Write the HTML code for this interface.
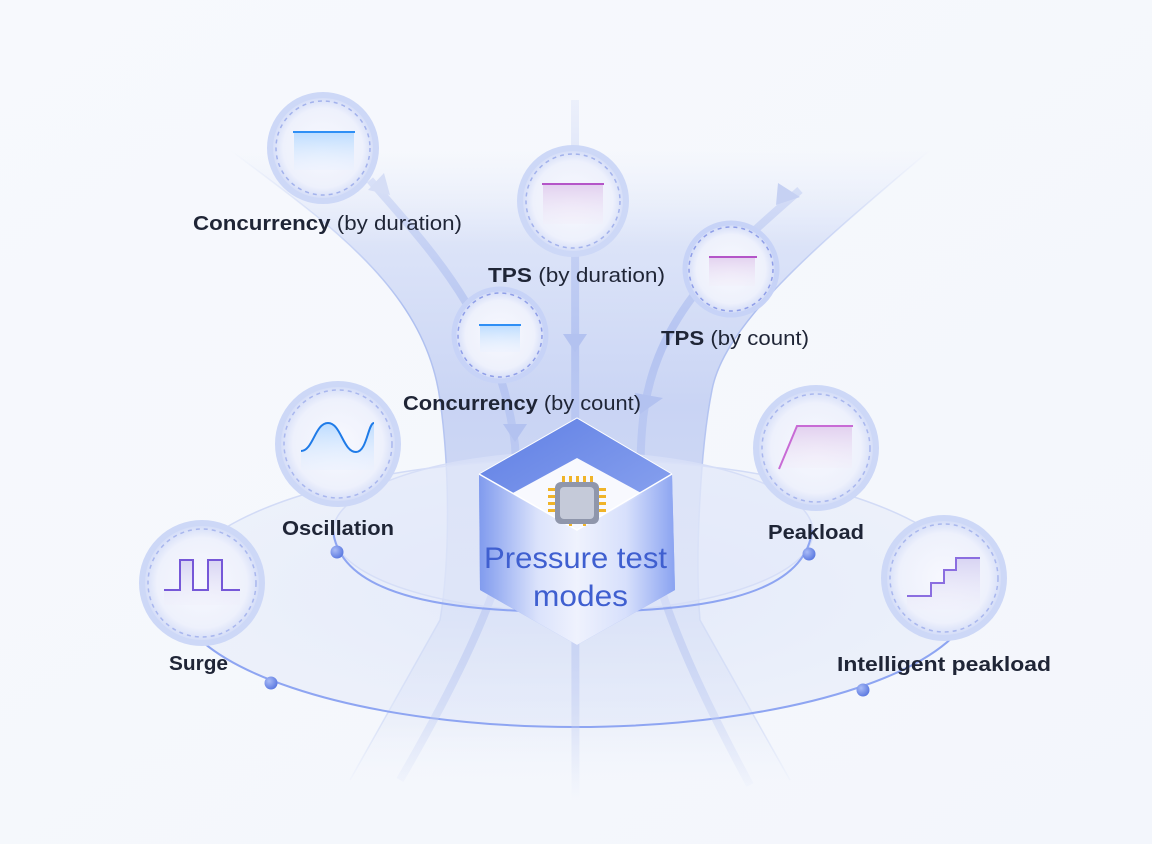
<!DOCTYPE html>
<html><head><meta charset="utf-8"><style>
html,body{margin:0;padding:0;width:1152px;height:844px;overflow:hidden;background:#f6f8fd}
svg{display:block}
text{font-family:"Liberation Sans","DejaVu Sans",sans-serif}
</style></head><body>
<svg width="1152" height="844" viewBox="0 0 1152 844" xmlns="http://www.w3.org/2000/svg">
<defs>
<linearGradient id="bg" x1="0" y1="0" x2="1" y2="1"><stop offset="0" stop-color="#f7f9fd"/><stop offset="1" stop-color="#f3f6fc"/></linearGradient>
<linearGradient id="fun" gradientUnits="userSpaceOnUse" x1="0" y1="150" x2="0" y2="790">
<stop offset="0" stop-color="#e3e9f9" stop-opacity="0"/>
<stop offset="0.15" stop-color="#d5def7" stop-opacity="0.8"/>
<stop offset="0.4" stop-color="#c9d4f4"/>
<stop offset="0.7" stop-color="#d3dcf6"/>
<stop offset="0.88" stop-color="#e2e8f8" stop-opacity="0.6"/>
<stop offset="1" stop-color="#f3f6fc" stop-opacity="0"/></linearGradient>
<linearGradient id="edge" gradientUnits="userSpaceOnUse" x1="0" y1="150" x2="0" y2="790">
<stop offset="0" stop-color="#b6c5f1" stop-opacity="0"/>
<stop offset="0.25" stop-color="#aebff0"/>
<stop offset="0.8" stop-color="#b6c5f1" stop-opacity="0.7"/>
<stop offset="1" stop-color="#b6c5f1" stop-opacity="0"/></linearGradient>
<linearGradient id="str" gradientUnits="userSpaceOnUse" x1="0" y1="100" x2="0" y2="800">
<stop offset="0" stop-color="#c2cef3" stop-opacity="0.2"/>
<stop offset="0.35" stop-color="#b5c4f1"/>
<stop offset="0.8" stop-color="#c2cef3" stop-opacity="0.7"/>
<stop offset="1" stop-color="#c2cef3" stop-opacity="0"/></linearGradient>
<radialGradient id="circ" cx="0.5" cy="0.5" r="0.5">
<stop offset="0" stop-color="#f7f8fe"/><stop offset="0.75" stop-color="#eef1fc"/><stop offset="1" stop-color="#cfd9f7"/></radialGradient>
<linearGradient id="blueF" x1="0" y1="0" x2="0" y2="1"><stop offset="0" stop-color="#bcdcff"/><stop offset="1" stop-color="#e8f1ff" stop-opacity="0.3"/></linearGradient>
<linearGradient id="pinkF" x1="0" y1="0" x2="0" y2="1"><stop offset="0" stop-color="#e2d0ef"/><stop offset="1" stop-color="#f2ecf8" stop-opacity="0.3"/></linearGradient>
<linearGradient id="purF" x1="0" y1="0" x2="0" y2="1"><stop offset="0" stop-color="#d8d4f3"/><stop offset="1" stop-color="#efeefa" stop-opacity="0.3"/></linearGradient>
<linearGradient id="cubeL" x1="0" y1="0" x2="1" y2="0"><stop offset="0" stop-color="#7f9aee"/><stop offset="0.6" stop-color="#dfe6fc"/><stop offset="1" stop-color="#f4f6fe"/></linearGradient>
<linearGradient id="cubeR" x1="0" y1="0" x2="1" y2="0"><stop offset="0" stop-color="#f4f6fe"/><stop offset="0.5" stop-color="#dbe3fc"/><stop offset="1" stop-color="#8aa3f1"/></linearGradient>
<linearGradient id="cubeT" x1="0" y1="0" x2="1" y2="1"><stop offset="0" stop-color="#5f7fe4"/><stop offset="1" stop-color="#8ea6f0"/></linearGradient>
<radialGradient id="dot" cx="0.35" cy="0.35" r="0.7"><stop offset="0" stop-color="#a9bbf6"/><stop offset="1" stop-color="#5a78e0"/></radialGradient>
<radialGradient id="ell" cx="0.5" cy="0.5" r="0.5"><stop offset="0" stop-color="#dce4f8" stop-opacity="0.7"/><stop offset="1" stop-color="#e4eaf9" stop-opacity="0.5"/></radialGradient>
</defs>
<rect width="1152" height="844" fill="url(#bg)"/>
<!-- funnel -->
<path d="M230,150 C330,225 425,290 440,400 C450,470 450,560 440,620 L350,780 L790,780 L700,620 C695,560 700,450 712,390 C725,320 830,235 930,150 Z" fill="url(#fun)"/>
<path d="M230,150 C330,225 425,290 440,400 C450,470 450,560 440,620 L350,780" fill="none" stroke="url(#edge)" stroke-width="1.5"/>
<path d="M930,150 C830,235 725,320 712,390 C700,450 695,560 700,620 L790,780" fill="none" stroke="url(#edge)" stroke-width="1.5"/>
<!-- outer ellipse -->
<ellipse cx="575" cy="593" rx="400" ry="134" fill="url(#ell)"/>
<path d="M175,593 A400,134 0 0 0 975,593" fill="none" stroke="#8ea5f2" stroke-width="2"/>
<path d="M175,593 A400,134 0 0 1 975,593" fill="none" stroke="#d2dbf6" stroke-width="1.5"/>
<!-- streams -->
<path d="M575,100 L575.5,840" stroke="url(#str)" stroke-width="8" fill="none"/>
<path d="M370,180 C430,250 500,320 515,445 C520,520 510,590 400,780" stroke="url(#str)" stroke-width="8" fill="none"/>
<path d="M800,190 C720,260 650,320 642,430 C635,520 650,600 750,785" stroke="url(#str)" stroke-width="8" fill="none"/>
<path d="M778,183 L800,197 L776,205 Z" fill="#c6d1f3"/>
<path d="M384,173 L368,190 L390,195 Z" fill="#d6def6"/>
<path d="M563,334 L587,334 L575,352 Z" fill="#b3c2f0"/>
<path d="M503,424 L527,424 L515,442 Z" fill="#b3c2f0"/>
<path d="M635,393 L663,398 L640,414 Z" fill="#b3c2f0"/>
<!-- inner ellipse -->
<ellipse cx="573" cy="532" rx="240" ry="80" fill="#e2e8f9" fill-opacity="0.5" stroke="#d6def7" stroke-width="1.5"/>
<path d="M333,530 C340,600 460,612 573,612 C690,612 805,600 812,530" fill="none" stroke="#8ea5f2" stroke-width="2"/>
<!-- cube -->
<polygon points="577,418 672,474 675,590 577,645 480,590 479,474" fill="#8ea5f0"/>
<polygon points="577,418 672,474 577,530 479,474" fill="url(#cubeT)"/>
<polygon points="577,458 643,494 577,530 511,494" fill="#f8f9fe"/>
<polygon points="479,474 577,530 577,645 480,590" fill="url(#cubeL)" opacity="0.95"/>
<polygon points="672,474 577,530 577,645 675,590" fill="url(#cubeR)" opacity="0.95"/>
<polyline points="479,474 577,530 672,474" fill="none" stroke="#fff" stroke-width="1.5"/>
<polyline points="479,474 577,418 672,474" fill="none" stroke="#fff" stroke-width="1"/>
<!-- chip -->
<g fill="#f0b429">
<rect x="562" y="476" width="3" height="7"/><rect x="569" y="476" width="3" height="7"/><rect x="576" y="476" width="3" height="7"/><rect x="583" y="476" width="3" height="7"/><rect x="590" y="476" width="3" height="7"/>
<rect x="548" y="488" width="7" height="3"/><rect x="548" y="495" width="7" height="3"/><rect x="548" y="502" width="7" height="3"/><rect x="548" y="509" width="7" height="3"/>
<rect x="599" y="488" width="7" height="3"/><rect x="599" y="495" width="7" height="3"/><rect x="599" y="502" width="7" height="3"/><rect x="599" y="509" width="7" height="3"/>
<rect x="569" y="520" width="3" height="6"/><rect x="583" y="520" width="3" height="6"/></g>
<rect x="555" y="482" width="44" height="42" rx="6" fill="#8f96ab"/>
<rect x="560" y="487" width="34" height="32" rx="4" fill="#c5cad9"/>
<text x="484" y="568" font-size="30" fill="#3f5fd0" textLength="183" lengthAdjust="spacingAndGlyphs">Pressure test</text>
<text x="533" y="606" font-size="30" fill="#3f5fd0" textLength="95" lengthAdjust="spacingAndGlyphs">modes</text>
<!-- circles -->
<g stroke-width="1.5">
<circle cx="323" cy="148" r="53" fill="url(#circ)" stroke="#cdd8f7" stroke-width="6"/>
<circle cx="323" cy="148" r="47" fill="none" stroke="#a3b2ec" stroke-dasharray="4 4"/>
<circle cx="573" cy="201" r="53" fill="url(#circ)" stroke="#cdd8f7" stroke-width="6"/>
<circle cx="573" cy="201" r="47" fill="none" stroke="#a3b2ec" stroke-dasharray="4 4"/>
<circle cx="731" cy="269" r="46" fill="url(#circ)" stroke="#c7d3f7" stroke-width="5"/>
<circle cx="731" cy="269" r="42" fill="none" stroke="#8f9ee8" stroke-dasharray="4 4"/>
<circle cx="500" cy="335" r="46" fill="url(#circ)" stroke="#c7d3f7" stroke-width="5"/>
<circle cx="500" cy="335" r="42" fill="none" stroke="#8f9ee8" stroke-dasharray="4 4"/>
<circle cx="338" cy="444" r="60" fill="url(#circ)" stroke="#cdd8f7" stroke-width="6"/>
<circle cx="338" cy="444" r="54" fill="none" stroke="#a9b7ee" stroke-dasharray="4 4"/>
<circle cx="816" cy="448" r="60" fill="url(#circ)" stroke="#cdd8f7" stroke-width="6"/>
<circle cx="816" cy="448" r="54" fill="none" stroke="#a9b7ee" stroke-dasharray="4 4"/>
<circle cx="202" cy="583" r="60" fill="url(#circ)" stroke="#cdd8f7" stroke-width="6"/>
<circle cx="202" cy="583" r="54" fill="none" stroke="#a9b7ee" stroke-dasharray="4 4"/>
<circle cx="944" cy="578" r="60" fill="url(#circ)" stroke="#cdd8f7" stroke-width="6"/>
<circle cx="944" cy="578" r="54" fill="none" stroke="#a9b7ee" stroke-dasharray="4 4"/>
</g>
<!-- icons -->
<rect x="294" y="132" width="60" height="38" fill="url(#blueF)"/><line x1="293" y1="132" x2="355" y2="132" stroke="#2f8ff5" stroke-width="2"/>
<rect x="543" y="184" width="60" height="40" fill="url(#pinkF)"/><line x1="542" y1="184" x2="604" y2="184" stroke="#b455c8" stroke-width="2"/>
<rect x="709" y="256" width="46" height="30" fill="url(#pinkF)"/><line x1="709" y1="257" x2="757" y2="257" stroke="#b455c8" stroke-width="2"/>
<rect x="480" y="325" width="40" height="27" fill="url(#blueF)"/><line x1="479" y1="325" x2="521" y2="325" stroke="#2f8ff5" stroke-width="2"/>
<path d="M301,451 C313,451 315,423 328,423 C341,423 343,452 356,452 C367,452 368,423 374,423 L374,470 L301,470 Z" fill="url(#blueF)"/>
<path d="M301,451 C313,451 315,423 328,423 C341,423 343,452 356,452 C367,452 368,423 374,423" fill="none" stroke="#1f7be8" stroke-width="2"/>
<path d="M780,468 L797,426 L852,426 L852,468 Z" fill="url(#pinkF)"/>
<path d="M779,469 L797,426 L853,426" fill="none" stroke="#c86bd5" stroke-width="2"/>
<path d="M164,590 L180,590 L180,560 L193,560 L193,590 L208,590 L208,560 L222,560 L222,590 L240,590 L240,605 L164,605 Z" fill="url(#purF)"/>
<path d="M164,590 L180,590 L180,560 L193,560 L193,590 L208,590 L208,560 L222,560 L222,590 L240,590" fill="none" stroke="#7658d8" stroke-width="2"/>
<path d="M907,596 L931,596 L931,583 L944,583 L944,570 L956,570 L956,558 L980,558 L980,610 L907,610 Z" fill="url(#purF)"/>
<path d="M907,596 L931,596 L931,583 L944,583 L944,570 L956,570 L956,558 L980,558" fill="none" stroke="#8b6ee0" stroke-width="2"/>
<!-- dots -->
<circle cx="337" cy="552" r="6.5" fill="url(#dot)"/>
<circle cx="809" cy="554" r="6.5" fill="url(#dot)"/>
<circle cx="271" cy="683" r="6.5" fill="url(#dot)"/>
<circle cx="863" cy="690" r="6.5" fill="url(#dot)"/>
<!-- labels -->
<g font-size="20" fill="#1f2536" lengthAdjust="spacingAndGlyphs">
<text x="193" y="230" textLength="269" lengthAdjust="spacingAndGlyphs"><tspan font-weight="bold">Concurrency</tspan> (by duration)</text>
<text x="488" y="282" textLength="177" lengthAdjust="spacingAndGlyphs"><tspan font-weight="bold">TPS</tspan> (by duration)</text>
<text x="661" y="345" textLength="148" lengthAdjust="spacingAndGlyphs"><tspan font-weight="bold">TPS</tspan> (by count)</text>
<text x="403" y="410" textLength="238" lengthAdjust="spacingAndGlyphs"><tspan font-weight="bold">Concurrency</tspan> (by count)</text>
<text x="282" y="535" font-weight="bold" textLength="112" lengthAdjust="spacingAndGlyphs">Oscillation</text>
<text x="768" y="539" font-weight="bold" textLength="96" lengthAdjust="spacingAndGlyphs">Peakload</text>
<text x="169" y="670" font-weight="bold" textLength="59" lengthAdjust="spacingAndGlyphs">Surge</text>
<text x="837" y="671" font-weight="bold" textLength="214" lengthAdjust="spacingAndGlyphs">Intelligent peakload</text>
</g>
</svg>
</body></html>
